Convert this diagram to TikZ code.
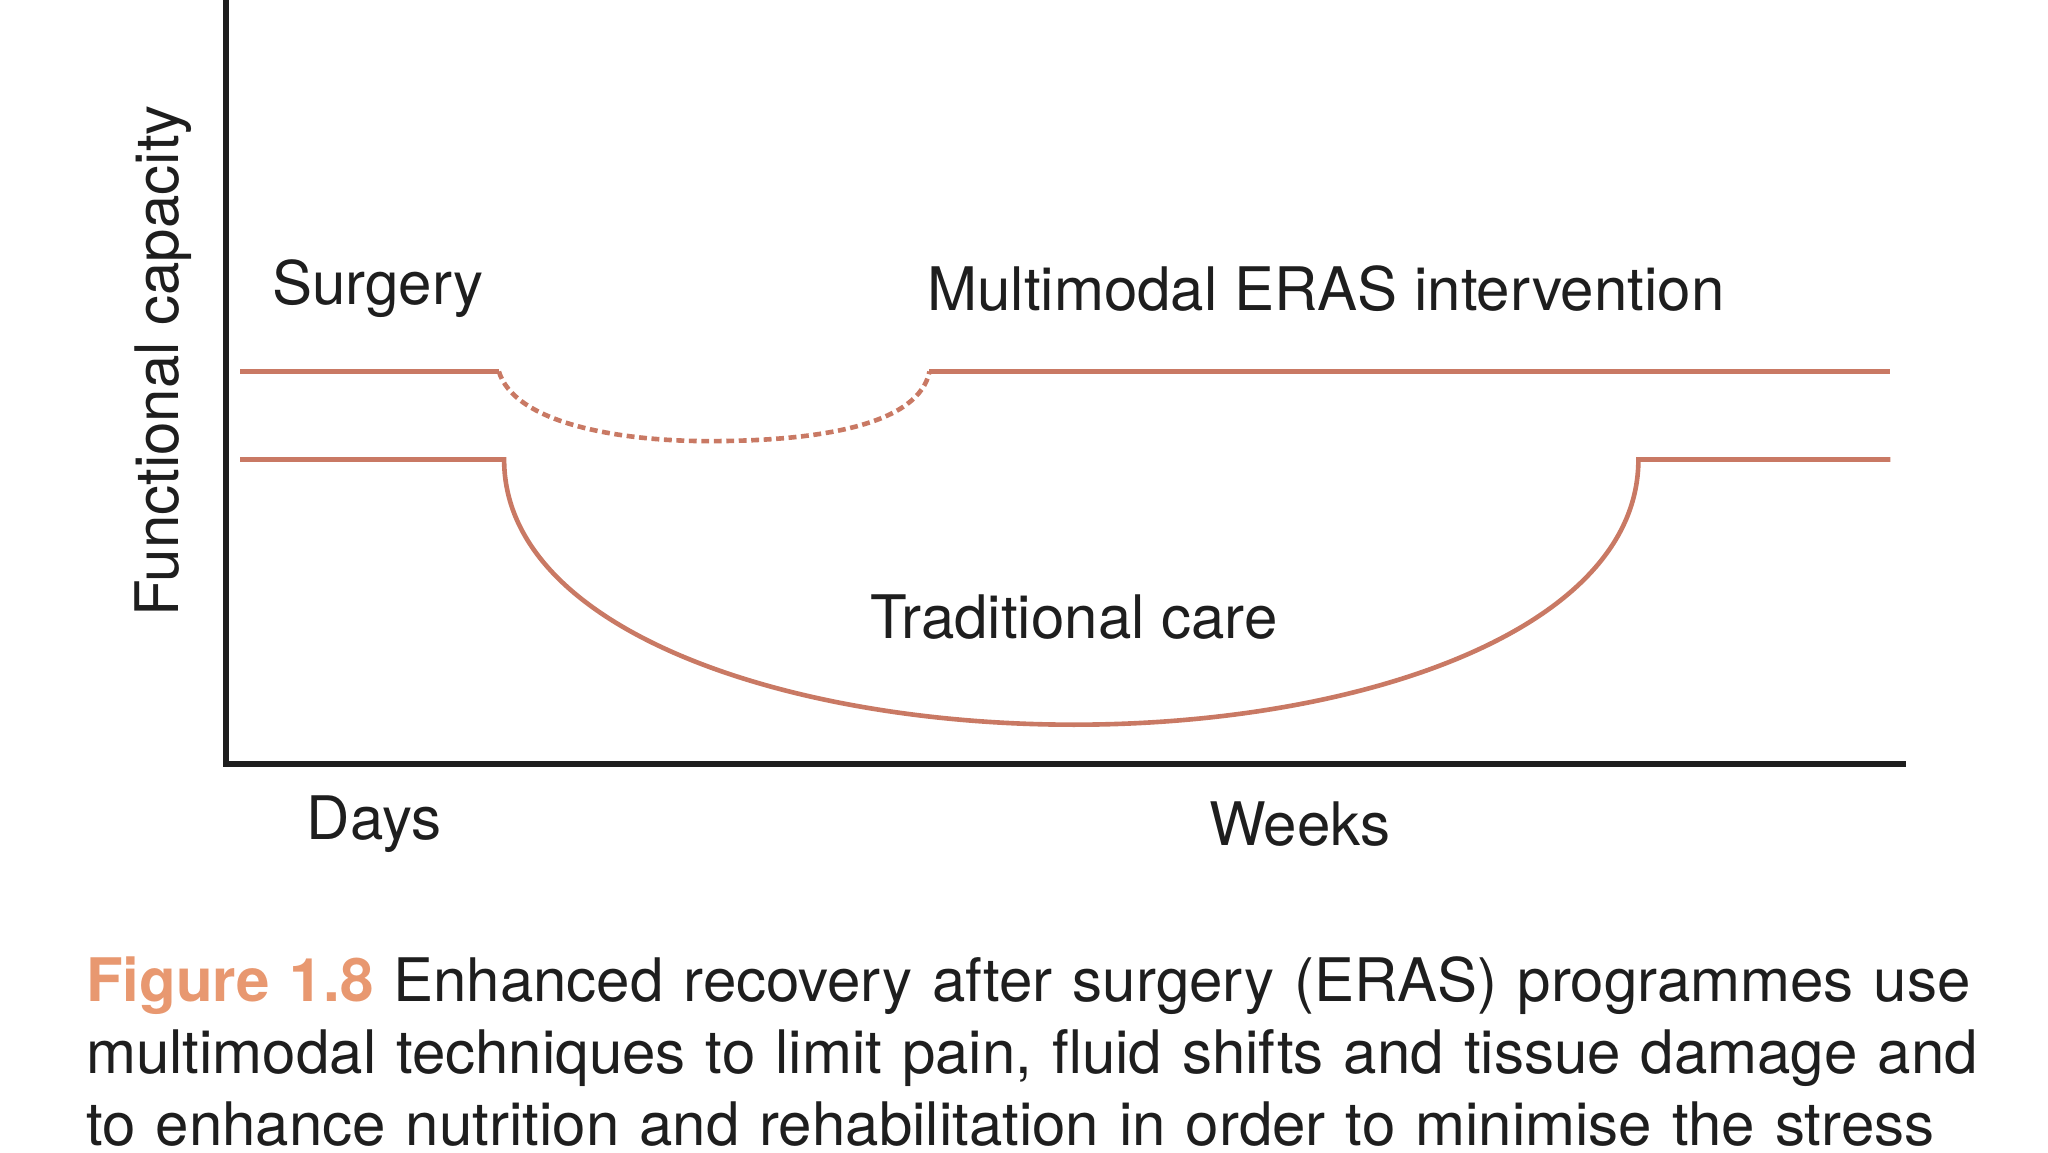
\documentclass[tikz,border=0pt]{standalone}
\usepackage{fontspec}
\setmainfont{TeX Gyre Heros}
\begin{document}
\definecolor{curve}{RGB}{201,121,100}
\definecolor{figc}{RGB}{232,152,112}
\definecolor{txt}{RGB}{30,30,30}
\begin{tikzpicture}[x=0.01cm,y=-0.01cm,
  ax/.style={line width=1.2pt,txt},
  cv/.style={line width=1.0pt,curve},
  lab/.style={font=\fontsize{13}{15}\selectfont,text=txt,inner sep=0}]
\useasboundingbox (0,0) rectangle (1560,878);
\clip (0,0) rectangle (1560,878);
% axes
\coordinate (top) at (172,0);
\coordinate (orig) at (172,582);
\coordinate (xend) at (1452,582);
\draw[ax] (top) -- (orig) -- (xend);
% ERAS line
\coordinate (a1) at (183,283); \coordinate (a2) at (380,283);
\coordinate (a3) at (708,283); \coordinate (a4) at (1440,283);
\draw[cv] (a1) -- (a2);
\draw[cv,dash pattern=on 0.06cm off 0.035cm] (a2) .. controls (392,322) and (470,336) .. (540,336) .. controls (630,336) and (700,322) .. (a3);
\draw[cv] (a3) -- (a4);
% traditional line
\coordinate (b1) at (183,350); \coordinate (b2) at (384,350);
\coordinate (b3) at (818,552);
\coordinate (b4) at (1248,350); \coordinate (b5) at (1440,350);
\draw[cv] (b1) -- (b2) .. controls (384,480) and (600,552) .. (b3) .. controls (1036,552) and (1248,480) .. (b4) -- (b5);
% labels
\node[lab] (surg) at (288,220) {Surgery};
\node[lab] (eras) at (1010,220) {Multimodal ERAS intervention};
\node[lab] (trad) at (818,470) {Traditional care};
\node[lab,rotate=90] (fc) at (124,275) {Functional capacity};
\node[lab] (days) at (285,628) {Days};
\node[lab] (weeks) at (990,628) {Weeks};
% caption
\node[anchor=north west,inner sep=0,text width=14.4cm,text=txt,
  font=\fontsize{13}{15.6}\selectfont] (cap) at (65,728)
 {\hyphenpenalty=10000\parfillskip=0pt\textcolor{figc}{\textbf{Figure 1.8}} Enhanced recovery after surgery (ERAS) programmes use\linebreak multimodal techniques to limit pain, fluid shifts and tissue damage and\linebreak to enhance nutrition and rehabilitation in order to minimise the stress\par};
\end{tikzpicture}
\end{document}
